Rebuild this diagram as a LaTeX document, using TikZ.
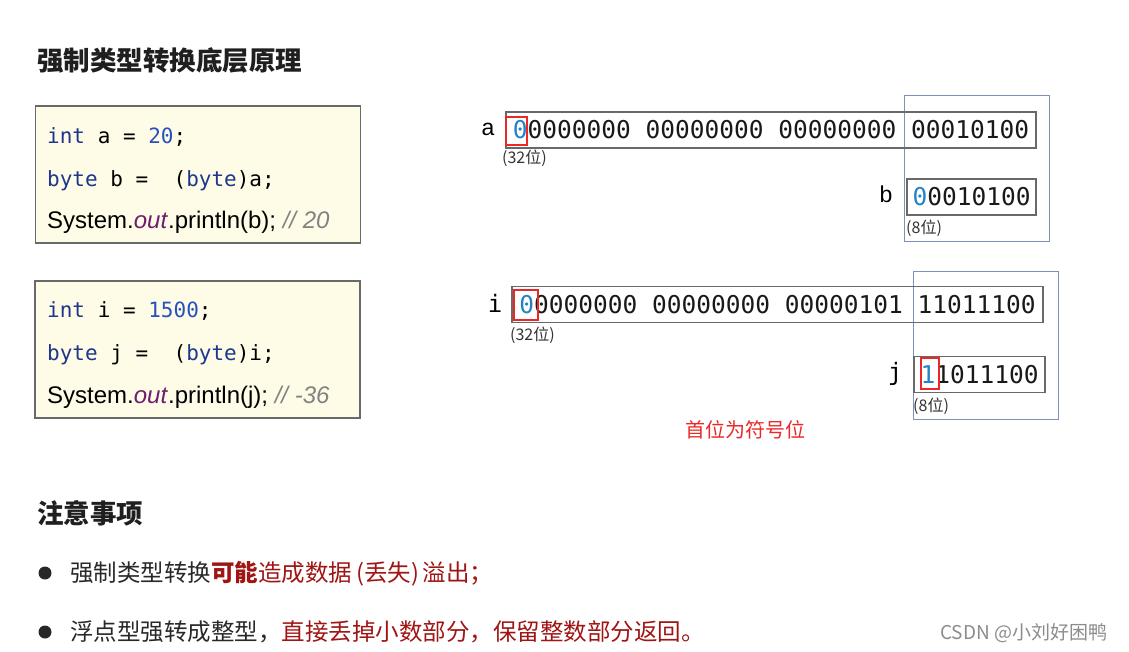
\documentclass[tikz,border=0pt]{standalone}
\usepackage{fontspec}
\setmainfont{Liberation Sans}
\setmonofont{DejaVu Sans Mono}
\newfontfamily\cjk{Noto Sans CJK SC}
\usepackage{xcolor}
\definecolor{codebg}{RGB}{254,252,230}
\definecolor{boxgray}{RGB}{105,105,105}
\definecolor{kw}{RGB}{28,55,140}
\definecolor{num}{RGB}{40,80,190}
\definecolor{outpurple}{RGB}{110,30,110}
\definecolor{cmtgray}{RGB}{130,130,130}
\definecolor{bitblue}{RGB}{35,130,200}
\definecolor{frameblue}{RGB}{125,145,185}
\definecolor{markred}{RGB}{235,40,40}
\definecolor{darkred}{RGB}{160,20,20}
\definecolor{textgray}{RGB}{40,40,40}
\newcommand{\kw}[1]{\textcolor{kw}{#1}}
\newcommand{\num}[1]{\textcolor{num}{#1}}

\begin{document}
\begin{tikzpicture}[x=1pt,y=-1pt,
  codebox/.style={draw=boxgray,line width=1.1pt,fill=codebg,minimum width=325pt,minimum height=137pt,inner sep=0pt},
  codeline/.style={anchor=west,inner sep=0pt,font=\ttfamily\fontsize{21}{24}\selectfont},
  javaline/.style={anchor=west,inner sep=0pt,font=\fontsize{24}{27}\selectfont},
  bits/.style={draw=boxgray,line width=1.1pt,inner sep=0pt,minimum height=36pt,text=black!90,font=\ttfamily\fontsize{24.5}{28}\selectfont},
  varname/.style={inner sep=0pt,font=\fontsize{23}{26}\selectfont},
  width/.style={anchor=west,inner sep=0pt,text=black!80,font=\cjk\fontsize{16}{19}\selectfont},
  heading/.style={anchor=west,inner sep=0pt,text=black!88,font=\cjk\bfseries\fontsize{26.5}{30}\selectfont},
  note/.style={anchor=west,inner sep=0pt,text=textgray,font=\cjk\fontsize{23.5}{27}\selectfont},
  signmark/.style={draw=markred,line width=1.8pt},
  cut/.style={draw=frameblue,line width=1pt}]
\useasboundingbox[fill=white] (0,0) rectangle (1129,652);
% ---- KOD ----
\node[heading] (title) at (37,60) {强制类型转换底层原理};
\node[codebox] (codeA) at (198,174.5) {};
\node[codeline] (a1) at (47,137) {\kw{int} a = \num{20};};
\node[codeline] (a2) at (47,181) {\kw{byte} b =\ \ (\kw{byte})a;};
\node[javaline] (a3) at (47,222) {System.\textcolor{outpurple}{\textit{out}}.println(b); \textcolor{cmtgray}{\textit{// 20}}};
\node[codebox] (codeI) at (197.5,349.5) {};
\node[codeline] (i1) at (47,311) {\kw{int} i = \num{1500};};
\node[codeline] (i2) at (47,355) {\kw{byte} j =\ \ (\kw{byte})i;};
\node[javaline] (i3) at (47,397) {System.\textcolor{outpurple}{\textit{out}}.println(j); \textcolor{cmtgray}{\textit{// -36}}};
% ---- BITY a/b ----
\draw[cut] (904,96) rectangle (1049,242);
\node[bits,minimum width=530pt] (bitsA) at (771,130) {\textcolor{bitblue}{0}0000000 00000000 00000000 00010100};
\node[varname] (nameA) at (488,129) {a};
\node[width] (lenA) at (502,158) {(32位)};
\node[bits,minimum width=129pt] (bitsB) at (971.5,197) {\textcolor{bitblue}{0}0010100};
\node[varname] (nameB) at (886,194) {b};
\node[width] (lenB) at (906,228) {(8位)};
\draw[signmark] (506,117) rectangle (527,145);
% ---- BITY i/j ----
\draw[cut] (913,272) rectangle (1058,419);
\node[bits,minimum width=531pt] (bitsI) at (777.5,304.5) {\textcolor{bitblue}{0}0000000 00000000 00000101 11011100};
\node[varname,font=\ttfamily\fontsize{24}{28}\selectfont] (nameI) at (495,303) {i};
\node[width] (lenI) at (510,335) {(32位)};
\node[bits,minimum width=131pt] (bitsJ) at (979.5,374.5) {\textcolor{bitblue}{1}1011100};
\node[varname,font=\ttfamily\fontsize{24}{28}\selectfont] (nameJ) at (895,374) {j};
\node[width] (lenJ) at (913,406) {(8位)};
\draw[signmark] (514,290) rectangle (538,320);
\draw[signmark] (921,358) rectangle (939,389);
\node[inner sep=0pt,text=markred,font=\cjk\fontsize{20}{24}\selectfont] (sign) at (745,430) {首位为符号位};
% ---- UWAGI ----
\node[heading] (notes) at (37,513) {注意事项};
\fill[textgray] (45,573) circle (6.5);
\node[note] (n1) at (70,574) {强制类型转换\textcolor{darkred}{\bfseries 可能}\textcolor{darkred}{造成数据\,(丢失)\,溢出；}};
\fill[textgray] (45,632) circle (6.5);
\node[note] (n2) at (70,632) {浮点型强转成整型，\textcolor{darkred}{直接丢掉小数部分，保留整数部分返回。}};
\node[anchor=west,inner sep=0pt,text=black!45,font=\cjk\fontsize{19}{22}\selectfont] (mark) at (940,633) {CSDN @小刘好困鸭};
\end{tikzpicture}
\end{document}
